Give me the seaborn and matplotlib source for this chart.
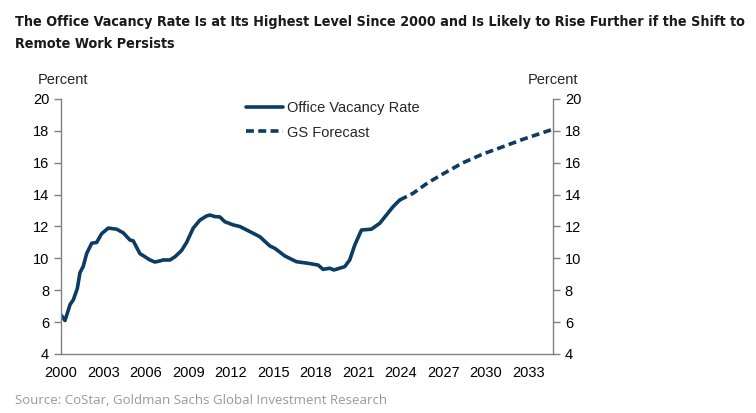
import numpy as np
import pandas as pd
import matplotlib
matplotlib.use('Agg')
import matplotlib.pyplot as plt
import matplotlib.font_manager as fm
import seaborn as sns

sns.set_style('white')
plt.rcParams['font.family'] = ['Liberation Sans', 'DejaVu Sans']

available_fonts = [f.name for f in fm.fontManager.ttflist]
title_font = 'Liberation Sans Narrow' if 'Liberation Sans Narrow' in available_fonts else 'DejaVu Sans'

# values
hist_years = [2000.0, 2000.28, 2000.64, 2000.87, 2001.15, 2001.34, 2001.57, 2001.81,
              2002.17, 2002.52, 2002.87, 2003.34, 2003.93, 2004.4, 2004.87, 2005.1,
              2005.57, 2005.93, 2006.28, 2006.63, 2006.99, 2007.22, 2007.7, 2008.05,
              2008.52, 2008.87, 2009.34, 2009.81, 2010.28, 2010.52, 2010.87, 2011.22,
              2011.57, 2012.16, 2012.63, 2013.34, 2014.04, 2014.75, 2015.1, 2015.81,
              2016.63, 2017.45, 2018.16, 2018.51, 2018.98, 2019.27, 2020.04, 2020.39,
              2020.75, 2021.22, 2021.92, 2022.51, 2022.98, 2023.45, 2023.92]
hist_vals = [6.45, 6.1, 7.1, 7.4, 8.1, 9.1, 9.5, 10.3,
             10.95, 11.0, 11.55, 11.9, 11.83, 11.6, 11.15, 11.1,
             10.3, 10.1, 9.9, 9.77, 9.84, 9.9, 9.9, 10.1,
             10.5, 11.0, 11.9, 12.4, 12.66, 12.72, 12.62, 12.6,
             12.3, 12.1, 12.0, 11.68, 11.36, 10.78, 10.63, 10.15,
             9.79, 9.69, 9.58, 9.31, 9.38, 9.27, 9.48, 9.9,
             10.84, 11.78, 11.83, 12.2, 12.72, 13.24, 13.66]

fc_years = [2023.92, 2024.86, 2025.92, 2026.98, 2028.39, 2029.8, 2031.2, 2032.62, 2034.6]
fc_vals = [13.66, 14.08, 14.75, 15.3, 16.0, 16.55, 17.0, 17.47, 18.06]

x_ticks = list(range(2000, 2034, 3))
y_ticks = list(range(4, 21, 2))

title_line1 = 'The Office Vacancy Rate Is at Its Highest Level Since 2000 and Is Likely to Rise Further if the Shift to'
title_line2 = 'Remote Work Persists'

df_hist = pd.DataFrame({'year': hist_years, 'rate': hist_vals})
df_fc = pd.DataFrame({'year': fc_years, 'rate': fc_vals})

navy = '#0c3c64'
gray = '#808080'

fig = plt.figure(figsize=(7.56, 4.13), dpi=100)
ax = fig.add_axes([0.0807, 0.1429, 0.6508, 0.6174])

sns.lineplot(data=df_hist, x='year', y='rate', ax=ax, color=navy, linewidth=2.6,
             label='Office Vacancy Rate')
sns.lineplot(data=df_fc, x='year', y='rate', ax=ax, color=navy, linewidth=2.6,
             linestyle=(0, (2.2, 1.2)), label='GS Forecast')

ax.set_xlim(2000, 2034.75)
ax.set_ylim(4, 20)
ax.set_xticks(x_ticks)
ax.set_xticklabels([str(t) for t in x_ticks])
ax.set_yticks(y_ticks)
ax.set_xlabel('')
ax.set_ylabel('')

ax2 = ax.twinx()
ax2.set_ylim(4, 20)
ax2.set_yticks(y_ticks)

for a in (ax, ax2):
    for s in a.spines.values():
        s.set_color(gray)
        s.set_linewidth(1.0)
    a.spines['top'].set_visible(False)
    a.tick_params(colors=gray, labelcolor='black', labelsize=10.5, length=5, width=1.0, direction='out')
ax.spines['right'].set_visible(False)
ax2.spines['left'].set_visible(False)
ax2.spines['bottom'].set_visible(False)

ax.legend(loc='upper left', bbox_to_anchor=(0.35, 1.045), frameon=False, fontsize=10.5,
          handlelength=2.5, handletextpad=0.3, labelspacing=0.75)

fig.text(38 / 756, 1 - 80 / 413, 'Percent', fontsize=10.5, ha='left', va='center')
fig.text(578 / 756, 1 - 80 / 413, 'Percent', fontsize=10.5, ha='right', va='center')

t1 = fig.text(15 / 756, 1 - 22 / 413, title_line1, fontsize=11.5, fontweight='bold',
              fontstretch='condensed', family=[title_font, 'DejaVu Sans'],
              ha='left', va='center', color='#1a1a1a')
t2 = fig.text(15 / 756, 1 - 44 / 413, title_line2, fontsize=11.5, fontweight='bold',
              fontstretch='condensed', family=[title_font, 'DejaVu Sans'],
              ha='left', va='center', color='#1a1a1a')

# shrink the title so that the first line spans the same width as in the reference
renderer = fig.canvas.get_renderer()
w = t1.get_window_extent(renderer).width
size = 11.5 * min(1.0, 733 / w)
t1.set_fontsize(size)
t2.set_fontsize(size)

fig.text(15 / 756, 1 - 401 / 413, 'Source: CoStar, Goldman Sachs Global Investment Research',
         fontsize=9.5, family=['Open Sans', 'DejaVu Sans'], ha='left', va='center', color='#999999')

fig.savefig('out.png', dpi=100, facecolor='white')
